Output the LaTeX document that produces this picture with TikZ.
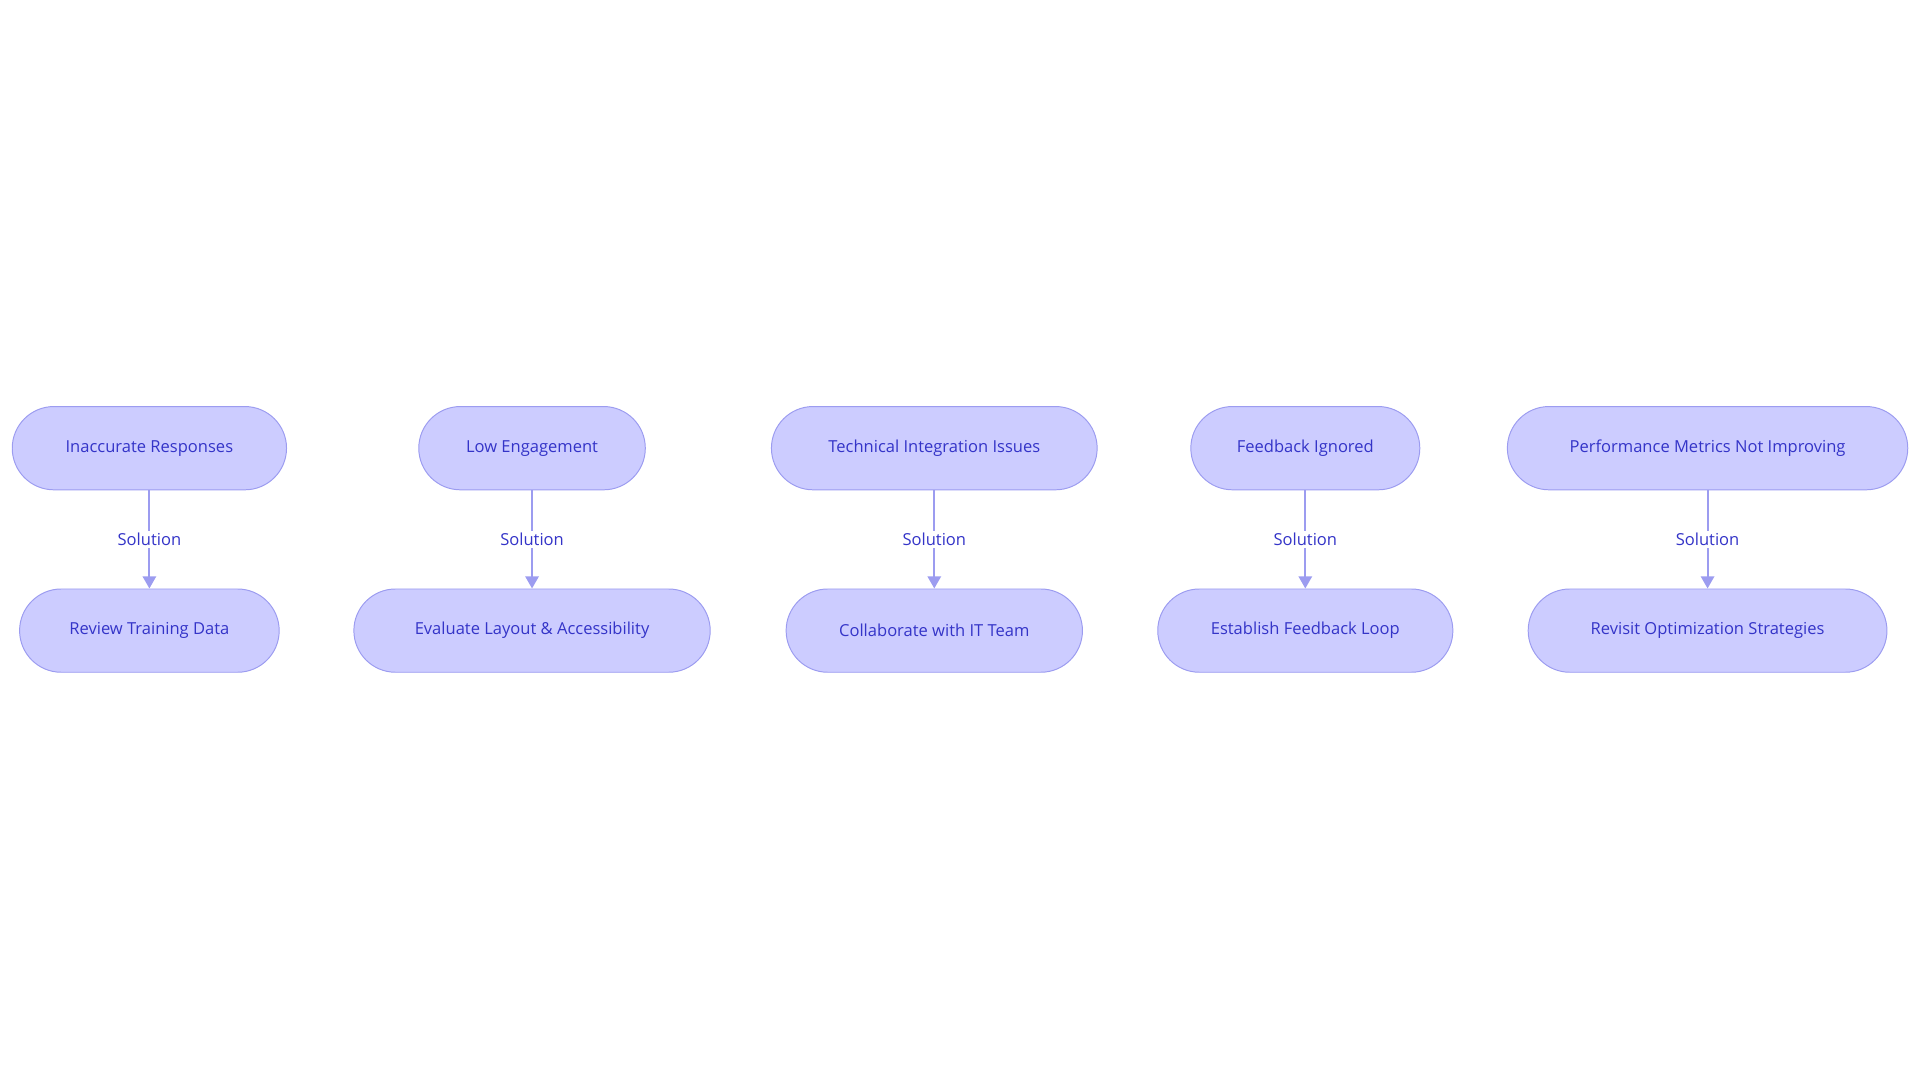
\documentclass[tikz,border=0pt]{standalone}
\usepackage{fontspec}
\setmainfont{Open Sans}
\usetikzlibrary{arrows.meta}
\definecolor{fillc}{HTML}{CCCCFF}
\definecolor{linec}{HTML}{9C9CF0}
\definecolor{txtc}{HTML}{3434C8}
\tikzset{
  pill/.style={draw=linec,fill=fillc,rounded corners=34pt,minimum height=68pt,inner sep=0pt,text=txtc,font=\fontsize{13.5pt}{16pt}\selectfont,line width=0.8pt},
  conn/.style={draw=linec,line width=1.6pt,-{Triangle[length=10pt,width=11pt]}},
  lab/.style={fill=white,text=txtc,font=\fontsize{13.5pt}{16pt}\selectfont,inner sep=2pt}
}
\begin{document}
\begin{tikzpicture}[x=1pt,y=-1pt]
\useasboundingbox (0,0) rectangle (1568,884);
\node[pill,minimum width=224pt] (a1) at (122,366) {Inaccurate Responses};
\node[pill,minimum width=212pt] (b1) at (122,515) {Review Training Data};
\node[pill,minimum width=185pt] (a2) at (434.5,366) {Low Engagement};
\node[pill,minimum width=291pt] (b2) at (434.5,515) {Evaluate Layout \& Accessibility};
\node[pill,minimum width=266pt] (a3) at (763,366) {Technical Integration Issues};
\node[pill,minimum width=242pt] (b3) at (763,515) {Collaborate with IT Team};
\node[pill,minimum width=187pt] (a4) at (1066,366) {Feedback Ignored};
\node[pill,minimum width=241pt] (b4) at (1066,515) {Establish Feedback Loop};
\node[pill,minimum width=327pt] (a5) at (1394.5,366) {Performance Metrics Not Improving};
\node[pill,minimum width=293pt] (b5) at (1394.5,515) {Revisit Optimization Strategies};
\foreach \i in {1,...,5}{
  \draw[conn] (a\i) -- node[lab]{Solution} (b\i);
}
\end{tikzpicture}
\end{document}
